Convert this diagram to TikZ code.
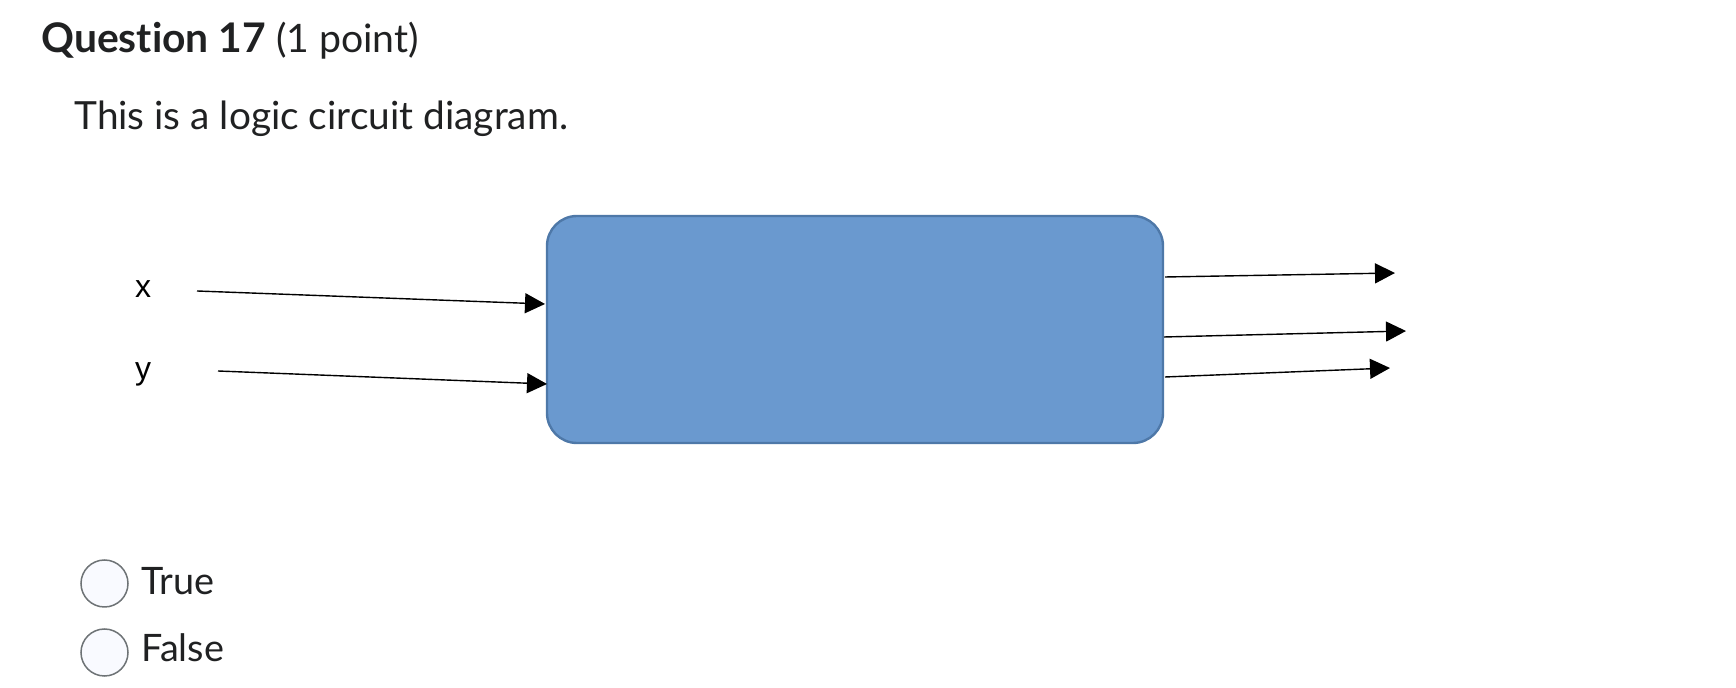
\documentclass[tikz,border=0pt]{standalone}
\usepackage{fontspec}
\setmainfont{Lato}[Ligatures=NoCommon]
\newfontfamily\arialfont{Liberation Sans}
\usetikzlibrary{arrows.meta}
\definecolor{boxfill}{HTML}{6A99CF}
\definecolor{boxline}{HTML}{4E78A8}
\definecolor{txt}{HTML}{202122}
\definecolor{radioline}{HTML}{6E7376}
\definecolor{radiofill}{HTML}{F9FAFF}
\tikzset{
  arr/.style={draw=black, line width=0.7pt, -{Triangle[length=10pt,width=10pt]}},
  block/.style={draw=boxline, fill=boxfill, line width=1.2pt, rounded corners=15pt, minimum width=308pt, minimum height=113.5pt, inner sep=0pt},
  lbl/.style={font=\arialfont\fontsize{16}{19}\selectfont, text=black, inner sep=0pt, anchor=base},
  qtext/.style={text=txt, inner sep=0pt, anchor=base west},
  radio/.style={circle, draw=radioline, fill=radiofill, line width=0.75pt, minimum size=23.5pt, inner sep=0pt}
}
\begin{document}
\begin{tikzpicture}[x=0.5pt, y=-0.5pt]
\useasboundingbox (0,0) rectangle (1736,688);
% texts
\node[qtext, font=\fontsize{19.6}{23}\selectfont] (q) at (41,53) {{\fontsize{20.4}{23}\selectfont\bfseries Question 17} (1 point)};
\node[qtext, font=\fontsize{19.4}{23}\selectfont] (stmt) at (74,130) {This is a logic circuit diagram.};
% block
\node[block] (box) at (855,329.5) {};
% labels
\node[lbl] (lx) at (143,298) {x};
\node[lbl] (ly) at (143,380) {y};
% input arrows
\coordinate (xs) at (197,291);
\coordinate (xe) at (545,304);
\coordinate (ys) at (218,371);
\coordinate (ye) at (547,384);
\draw[arr] (xs) -- (xe);
\draw[arr] (ys) -- (ye);
% output arrows
\coordinate (o1s) at (1165,277);
\coordinate (o1e) at (1395,273);
\coordinate (o2s) at (1164,337);
\coordinate (o2e) at (1406,331);
\coordinate (o3s) at (1165,377);
\coordinate (o3e) at (1390,368);
\draw[arr] (o1s) -- (o1e);
\draw[arr] (o2s) -- (o2e);
\draw[arr] (o3s) -- (o3e);
% radio buttons
\node[radio] (r1) at (104.5,583.5) {};
\node[radio] (r2) at (104.5,652.5) {};
\node[qtext, font=\fontsize{18.9}{23}\selectfont] (t1) at (141,595) {True};
\node[qtext, font=\fontsize{18.9}{23}\selectfont] (t2) at (141,662) {False};
\end{tikzpicture}
\end{document}
